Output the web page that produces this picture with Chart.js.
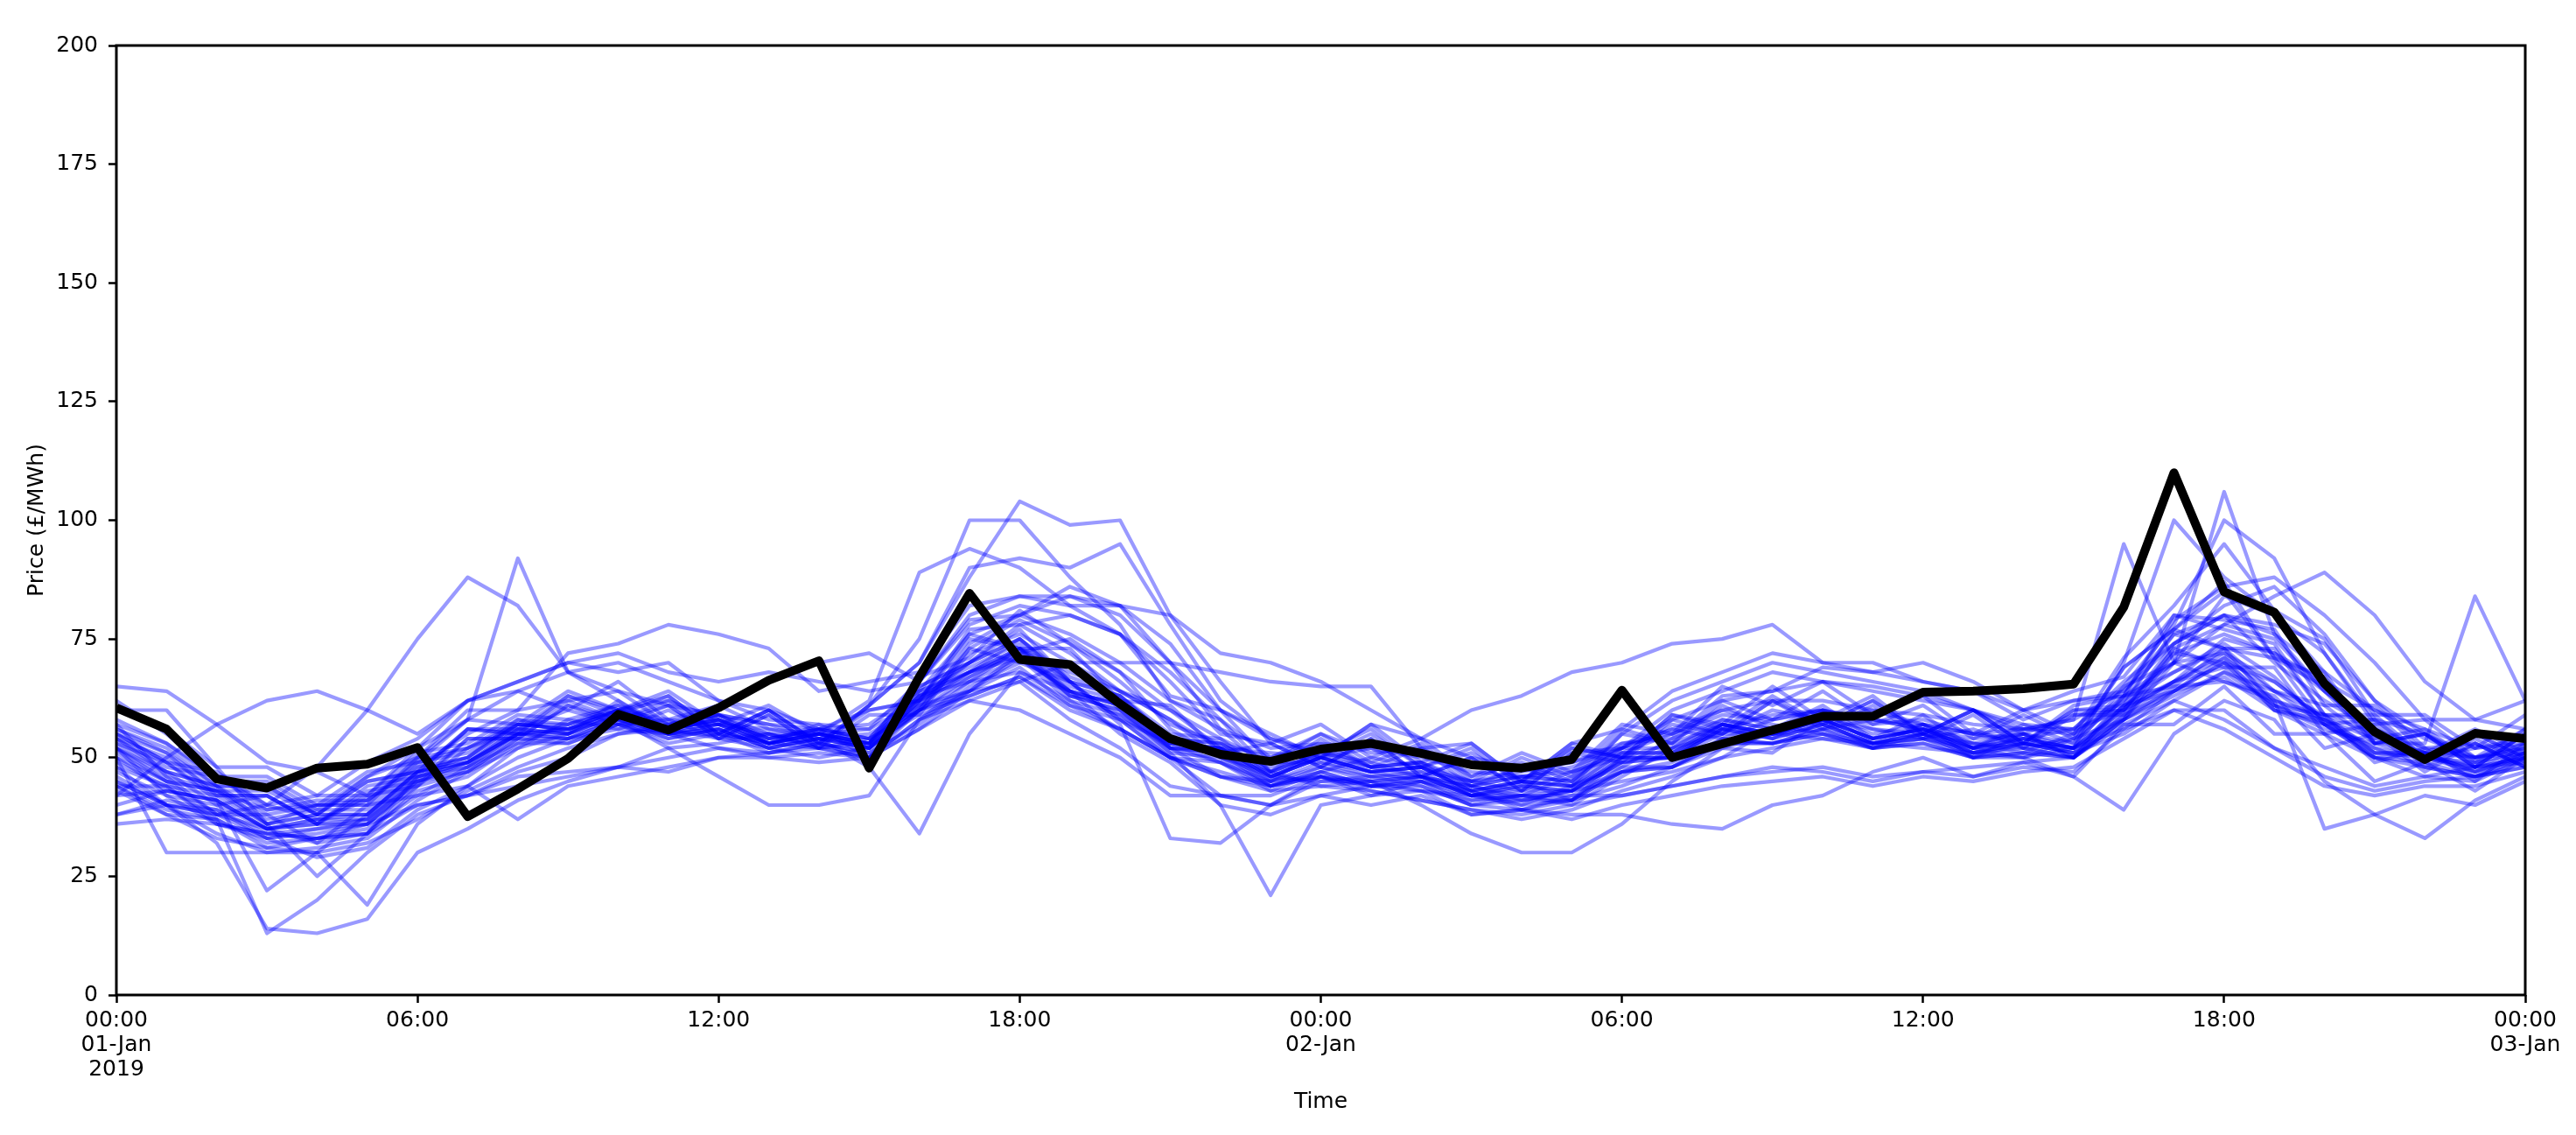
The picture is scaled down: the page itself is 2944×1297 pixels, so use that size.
<!DOCTYPE html>
<html lang="en">
<head>
  <meta charset="UTF-8" />
  <title>Price scenarios</title>
  <script src="https://cdn.jsdelivr.net/npm/chart.js"></script>
  <style>
    body { margin: 0; background: #fff; }
    .wrap { width: 2944px; height: 1297px; position: relative; }
  </style>
</head>
<body>
  <div class="wrap"><canvas id="priceChart"></canvas></div>

  <script>
    // hours since 01-Jan 2019 00:00
    const hours = [0,1,2,3,4,5,6,7,8,9,10,11,12,13,14,15,16,17,18,19,20,21,22,23,24,
                   25,26,27,28,29,30,31,32,33,34,35,36,37,38,39,40,41,42,43,44,45,46,47,48];
    const xTickLabels = [['00:00','01-Jan','2019'], '06:00', '12:00', '18:00',
                         ['00:00','02-Jan'], '06:00', '12:00', '18:00', ['00:00','03-Jan']];

    // actual price (black)
    const actualPrice = [60.5,56,45.5,43.6,47.8,48.6, 52.1,37.6,43.4,49.8,59.1,55.8,
                         60.5,66.3,70.4,47.8,67,84.6, 70.7,69.6,61.3,54,50.7,49.2,
                         51.8,53,50.9,48.5,47.8,49.6, 64.2,50,52.9,55.8,58.7,58.7,
                         63.8,64,64.5,65.5,81.7,110, 84.9,80.6,65.6,55.4,49.6,55.1, 54];

    // simulated price scenarios (blue), one row per scenario
    const scenarios = [
      [65,64,57,49,47,42, 52,58,64,60,66,58, 61,66,70,72,66,78, 82,80,76,68,58,50, 55,51,52,46,49,45, 55,62,66,70,68,66, 64,60,57,56,65,70, 84,80,72,58,55,49, 53],
      [50,30,30,30,30,38, 47,50,58,55,62,56, 59,53,56,50,63,66, 73,63,62,52,52,45, 52,48,49,42,45,41, 50,50,57,54,60,53, 57,52,55,50,61,64, 71,60,58,50,51,46, 51],
      [45,40,32,14,13,16, 30,35,41,45,48,52, 53,55,52,50,56,62, 66,70,64,58,50,47, 44,45,46,44,41,43, 45,47,50,56,58,60, 57,55,53,51,55,62, 68,64,57,50,46,48, 49],
      [48,44,37,13,20,30, 38,42,47,50,55,57, 59,55,52,54,60,67, 73,66,58,53,49,44, 47,50,48,45,43,47, 51,55,60,57,55,53, 54,56,52,50,58,72, 70,62,59,55,51,48, 50],
      [55,49,41,22,30,19, 36,44,52,55,60,62, 58,54,55,52,60,74, 80,86,82,70,56,47, 51,49,46,44,42,46, 52,56,54,58,60,58, 56,53,51,55,63,68, 74,67,57,52,50,52, 53],
      [42,50,57,62,64,60, 55,62,64,68,70,66, 62,58,57,56,62,75, 73,68,64,60,52,51, 50,52,47,45,47,49, 52,58,62,64,66,65, 63,60,56,56,66,74, 82,86,76,62,55,50, 52],
      [38,40,38,40,48,60, 75,88,82,68,64,57, 61,56,55,52,62,68, 75,67,63,55,54,46, 50,47,48,43,45,44, 49,52,57,55,58,54, 56,51,54,52,60,66, 72,62,58,51,51,47, 50],
      [54,47,44,36,40,40, 50,58,92,68,62,55, 59,57,54,53,67,71, 81,74,66,57,53,50, 53,48,49,45,46,47, 50,53,57,55,54,52, 55,50,53,52,58,63, 68,61,56,53,50,48, 52],
      [50,45,38,38,32,40, 42,44,37,44,46,48, 50,50,49,50,58,64, 71,62,59,51,40,38, 42,44,43,41,42,40, 42,44,46,48,47,45, 47,46,48,47,56,60, 60,52,48,44,46,45, 50],
      [55,51,44,44,38,46, 50,60,60,72,74,78, 76,73,64,66,68,82, 84,84,82,74,60,55, 50,55,48,51,45,52, 50,59,57,65,58,63, 55,60,53,61,63,80, 79,77,61,61,51,56, 51],
      [52,47,40,42,36,42, 44,54,54,61,58,61, 54,59,52,61,75,100, 100,88,78,62,58,47, 54,48,52,44,48,44, 55,53,61,56,61,54, 59,52,57,53,69,77, 87,71,65,53,55,48, 55],
      [56,51,42,42,36,44, 46,56,56,63,60,63, 55,60,53,61,70,88, 104,99,100,80,66,53, 57,50,54,46,51,47, 57,55,65,61,66,59, 63,55,60,55,71,82, 95,81,75,59,59,52, 59],
      [46,40,39,34,35,37, 45,48,55,54,58,55, 56,52,54,48,34,55, 68,64,55,49,40,21, 40,42,45,43,39,42, 47,49,54,53,56,53, 54,51,52,50,59,64, 70,60,57,50,49,46, 50],
      [50,43,41,35,36,36, 45,49,56,55,59,56, 57,53,55,53,63,70, 77,66,57,33,32,40, 46,44,46,42,42,43, 49,50,56,55,58,54, 56,52,54,52,61,68, 73,64,59,51,51,47, 51],
      [52,45,43,36,38,38, 47,49,55,56,59,55, 57,53,55,53,63,68, 73,64,61,52,51,44, 46,45,40,34,30,30, 36,45,52,51,58,52, 57,50,55,50,63,65, 73,61,59,49,52,45, 53],
      [55,49,47,40,42,42, 51,53,59,58,61,56, 58,54,56,54,65,70, 75,66,63,54,53,47, 50,57,54,60,63,68, 70,74,75,78,70,70, 66,64,60,64,67,80, 77,74,59,58,50,55, 50],
      [40,43,41,35,37,38, 47,50,57,56,60,56, 58,54,56,54,60,66, 71,64,61,53,52,46, 50,47,48,44,46,45, 53,54,63,64,69,68, 70,66,60,62,64,76, 73,71,57,58,49,54, 49],
      [44,38,37,31,33,34, 43,46,53,53,57,54, 56,52,54,52,61,64, 66,58,52,44,42,42, 46,42,43,38,39,38, 38,36,35,40,42,47, 50,46,49,46,57,57, 65,55,55,45,49,43, 50],
      [53,47,44,38,40,40, 49,51,57,56,60,56, 58,53,55,53,64,69, 74,65,62,53,52,46, 50,47,48,43,45,44, 51,51,57,55,58,54, 56,52,56,58,95,70, 66,63,52,55,47,53, 48],
      [44,44,42,36,38,38, 47,49,56,55,59,55, 57,53,55,53,63,68, 72,63,60,52,51,45, 49,46,47,42,44,43, 50,50,56,54,57,53, 55,51,53,52,70,100, 88,80,68,53,55,48, 55],
      [54,48,46,39,41,41, 50,52,58,57,61,57, 59,54,56,54,65,70, 75,66,63,54,53,47, 51,48,49,44,46,45, 52,52,58,56,59,55, 57,53,55,53,63,70, 106,76,64,53,55,48, 55],
      [51,45,43,37,39,39, 48,50,57,56,60,56, 58,53,55,53,64,68, 73,64,61,53,52,46, 50,47,48,43,45,44, 51,51,57,55,58,54, 56,52,54,52,65,78, 100,92,72,57,58,50, 56],
      [42,43,41,35,37,37, 46,48,55,54,58,54, 56,52,54,52,62,67, 72,63,60,51,50,44, 48,45,46,42,44,43, 50,50,56,54,57,53, 55,51,53,51,61,66, 71,64,61,53,53,84, 62],
      [38,41,39,33,35,36, 45,47,54,53,57,53, 55,51,53,51,60,64, 69,61,58,50,49,43, 47,44,45,40,42,41, 48,48,54,53,56,52, 54,50,50,46,39,55, 62,58,45,38,33,41, 46],
      [58,53,45,45,39,46, 52,62,66,70,68,70, 62,60,56,60,62,77, 78,80,76,66,55,53, 48,54,46,50,43,51, 52,60,64,68,66,64, 62,60,55,59,60,74, 80,78,74,62,52,53, 48],
      [36,37,36,34,33,36, 40,42,46,47,48,50, 52,51,53,50,60,63, 67,60,56,50,47,44, 47,44,45,41,42,42, 42,44,46,47,48,46, 47,48,49,50,57,62, 58,52,46,43,45,46, 48],
      [56,52,44,44,38,45, 47,56,55,62,58,62, 55,60,53,60,62,76, 73,73,62,61,51,53, 48,54,46,50,43,51, 49,58,55,62,56,61, 54,59,52,59,59,73, 78,84,89,80,66,58, 56],
      [52,46,43,39,40,41, 49,52,57,57,60,57, 57,55,55,56,66,80, 84,82,82,80,72,70, 66,60,54,50,48,49, 53,55,59,58,60,57, 58,55,56,55,62,70, 72,66,58,54,51,50, 51],
      [54,50,43,43,38,45, 47,56,55,63,59,63, 55,60,53,61,70,90, 92,90,95,78,62,54, 51,56,48,52,44,52, 50,59,56,63,57,62, 55,60,53,60,61,77, 73,73,59,59,50,55, 50],
      [57,53,46,46,40,47, 49,58,57,64,60,64, 57,61,55,62,89,94, 90,82,76,63,60,49, 55,49,53,45,50,46, 56,53,62,58,64,57, 61,54,59,54,69,77, 85,71,67,54,56,49, 56],
      [45,40,38,33,34,36, 44,47,54,54,56,55, 55,53,52,53,59,63, 67,61,56,50,42,40, 45,45,43,42,40,41, 47,48,53,53,55,52, 53,50,51,50,58,65, 66,62,35,38,42,40, 45],
      [60,56,48,48,42,49, 54,62,66,70,72,68, 66,68,66,64,66,79, 80,84,80,70,60,54, 50,57,49,53,45,53, 56,64,68,72,70,68, 66,64,58,62,63,79, 86,88,80,70,58,58, 62],
      [60,60,48,36,25,34, 46,49,55,55,58,55, 56,53,54,52,61,68, 71,64,59,52,49,45, 48,46,46,42,43,43, 49,50,55,55,57,53, 55,52,53,51,59,66, 69,61,57,51,50,47, 51],
      [47,42,40,35,36,37, 46,49,55,56,58,52, 46,40,40,42,58,66, 68,62,56,50,46,44, 46,44,44,40,41,41, 47,48,53,53,55,52, 53,50,51,50,58,64, 67,60,55,50,48,46, 49],
      [53,49,42,42,36,43, 45,54,54,61,57,61, 54,59,52,59,59,73, 70,70,70,70,68,66, 65,65,52,53,45,53, 50,57,55,62,57,62, 55,60,53,60,60,73, 69,69,55,57,48,53, 48],
      [44,39,37,32,33,34, 40,42,44,46,48,47, 50,51,52,50,58,62, 60,55,50,42,42,40, 42,40,42,38,39,37, 40,42,44,45,46,44, 46,45,47,48,54,60, 56,50,44,42,44,44, 47],
      [48,40,34,30,31,33, 41,47,52,58,56,60, 55,53,57,52,60,72, 76,70,60,52,46,45, 46,43,41,39,38,40, 46,52,55,60,58,56, 55,53,52,54,62,76, 80,70,62,56,50,48, 50],
      [52,42,36,33,29,31, 39,44,50,54,57,55, 52,50,51,50,56,64, 72,75,68,56,50,46, 45,46,44,40,39,41, 44,48,52,55,56,58, 56,54,55,52,60,66, 75,72,66,60,54,50, 52],
      [57,46,38,35,32,34, 44,52,56,60,57,58, 54,52,50,52,62,70, 78,72,64,58,52,48, 50,48,46,43,40,44, 48,54,58,56,60,56, 54,52,50,54,58,70, 78,75,64,56,52,50, 53],
      [43,38,33,31,30,32, 37,43,48,52,55,56, 54,55,53,51,57,65, 70,66,58,50,46,43, 44,43,41,39,37,39, 43,46,50,52,54,53, 52,51,50,52,56,64, 70,66,58,52,48,46, 48],
      [49,44,36,34,33,35, 42,48,53,57,60,58, 57,56,54,55,61,73, 79,74,68,60,54,49, 49,47,45,42,41,43, 47,51,56,59,60,58, 57,55,54,56,60,72, 76,72,64,56,50,49, 51],
      [62,55,46,40,37,41, 48,55,60,62,64,61, 59,57,56,57,64,76, 80,76,70,62,56,52, 53,52,50,47,46,48, 52,56,60,62,62,60, 59,57,56,58,64,74, 80,76,68,60,56,52, 54]
    ];

    const toPoints = values => hours.map((h, i) => ({ x: h, y: values[i] }));

    const datasets = [{
      data: toPoints(actualPrice),
      borderColor: '#000000',
      borderWidth: 10,
      borderJoinStyle: 'round',
      order: 0,
      clip: 0
    }];
    scenarios.forEach(s => {
      datasets.push({
        data: toPoints(s),
        borderColor: 'rgba(0, 0, 255, 0.4)',
        borderWidth: 4.2,
        borderJoinStyle: 'round',
        order: 1,
        clip: 0
      });
    });

    // matplotlib style box round the plot
    const frame = {
      id: 'frame',
      afterDatasetsDraw(chart) {
        const { ctx, chartArea: a } = chart;
        ctx.save();
        ctx.strokeStyle = '#000';
        ctx.lineWidth = 3;
        ctx.strokeRect(a.left, a.top, a.right - a.left, a.bottom - a.top);
        ctx.restore();
      }
    };

    const font = { family: 'DejaVu Sans', size: 25 };

    new Chart(document.getElementById('priceChart'), {
      type: 'line',
      data: { datasets },
      options: {
        responsive: true,
        maintainAspectRatio: false,
        animation: false,
        devicePixelRatio: 1,
        layout: { padding: { top: 52, right: 58, left: 0, bottom: 0 } },
        plugins: { legend: { display: false }, tooltip: { enabled: false } },
        elements: { point: { radius: 0 }, line: { tension: 0 } },
        scales: {
          x: {
            type: 'linear',
            min: 0,
            max: 48,
            afterFit: scale => { scale.height = 160; },
            border: { display: false },
            grid: { drawOnChartArea: false, tickLength: 9, tickWidth: 2.5, tickColor: '#000' },
            ticks: {
              stepSize: 6,
              autoSkip: false,
              maxRotation: 0,
              padding: 6,
              color: '#000',
              font: { family: 'DejaVu Sans', size: 25, lineHeight: 1.12 },
              callback: v => xTickLabels[v / 6]
            },
            title: { display: true, text: 'Time', color: '#000', font, padding: { top: 0, bottom: 23 } }
          },
          y: {
            min: 0,
            max: 200,
            afterFit: scale => { scale.width = 133; },
            border: { display: false },
            grid: { drawOnChartArea: false, tickLength: 9, tickWidth: 2.5, tickColor: '#000' },
            ticks: { stepSize: 25, padding: 12, color: '#000', font },
            title: { display: true, text: 'Price (£/MWh)', color: '#000', font, padding: { top: 27, bottom: 0 } }
          }
        }
      },
      plugins: [frame]
    });
  </script>
</body>
</html>
